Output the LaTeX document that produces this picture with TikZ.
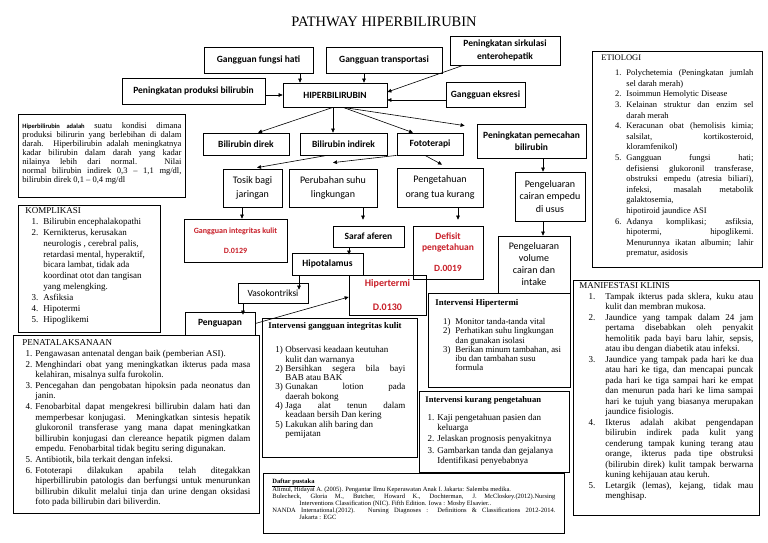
\documentclass[tikz,border=0pt]{standalone}
\usepackage{fontspec}
\setmainfont{Liberation Serif}
\newfontfamily\calibri{Carlito}
\usepackage{enumitem}
\usetikzlibrary{arrows.meta, positioning}
\definecolor{dxred}{RGB}{200,30,40}
\setlist{nosep}
\hyphenpenalty=10000
\exhyphenpenalty=10000
\tolerance=9000
\hbadness=10000

\begin{document}
\begin{tikzpicture}[x=1pt, y=-1pt,
        flowbox/.style={draw, line width=0.75pt, inner sep=1pt, align=center, font=\calibri\bfseries\fontsize{9.5}{12}\selectfont},
        flowlight/.style={flowbox, font=\calibri\fontsize{10}{13.5}\selectfont},
        diagbox/.style={flowbox, text=dxred},
        infobox/.style={draw, line width=0.9pt, anchor=north west, inner ysep=0pt},
        arrow/.style={-{Triangle[length=4pt, width=3.6pt]}, line width=0.6pt}
    ]
        \fill[white] (0,0) rectangle (768,543);
        \useasboundingbox (0,0) rectangle (768,543);

        \node[font=\fontsize{14.5}{16}\selectfont] (judul) at (384,22) {PATHWAY HIPERBILIRUBIN};

        % penyebab
        \node[flowbox, minimum width=109pt, minimum height=26pt] (fungsi) at (258.5,60) {Gangguan fungsi hati};
        \node[flowbox, minimum width=116pt, minimum height=26pt] (transp) at (384,60) {Gangguan transportasi};
        \node[flowbox, minimum width=110pt, minimum height=29pt, font=\calibri\bfseries\fontsize{9.5}{13}\selectfont] (sirk) at (505,50.5) {Peningkatan sirkulasi\\enterohepatik};
        \node[flowbox, minimum width=143pt, minimum height=26pt] (produksi) at (193.5,91) {Peningkatan produksi bilirubin};
        \node[flowbox, minimum width=104pt, minimum height=24pt] (hiper) at (335,95) {HIPERBILIRUBIN};
        \node[flowbox, minimum width=79pt, minimum height=25pt] (ekskresi) at (485.5,94.5) {Gangguan eksresi};

        % turunan
        \node[flowbox, minimum width=86pt, minimum height=22pt] (direk) at (246,144) {Bilirubin direk};
        \node[flowbox, minimum width=87pt, minimum height=22pt] (indirek) at (343.5,144) {Bilirubin indirek};
        \node[flowbox, minimum width=66pt, minimum height=22pt] (foto) at (430,144) {Fototerapi};
        \node[flowbox, minimum width=109pt, minimum height=34pt] (pecah) at (531.5,141) {Peningkatan pemecahan\\bilirubin};
        \node[flowlight, minimum width=59pt, minimum height=38pt, font=\calibri\fontsize{10}{14}\selectfont] (tosik) at (252.5,188) {Tosik bagi\\jaringan};
        \node[flowlight, minimum width=88pt, minimum height=38pt, font=\calibri\fontsize{10}{14}\selectfont] (suhu) at (333,188) {Perubahan suhu\\lingkungan};
        \node[flowlight, minimum width=86pt, minimum height=39pt, font=\calibri\fontsize{10}{15}\selectfont] (tahu) at (440,187.5) {Pengetahuan\\orang tua kurang};
        \node[flowlight, minimum width=70pt, minimum height=49pt, font=\calibri\fontsize{10}{12.5}\selectfont] (empedu) at (550,196.5) {Pengeluaran\\cairan empedu\\di usus};
        \node[flowlight, minimum width=72pt, minimum height=57pt, font=\calibri\fontsize{10}{12}\selectfont] (volume) at (534,264.5) {Pengeluaran\\volume\\cairan dan\\intake};
        \node[flowbox, minimum width=71pt, minimum height=21pt] (saraf) at (368.5,236.5) {Saraf aferen};
        \node[flowbox, minimum width=71pt, minimum height=22pt] (hipotal) at (327.5,264) {Hipotalamus};
        \node[flowlight, minimum width=70pt, minimum height=20pt, font=\calibri\fontsize{9.5}{12}\selectfont] (vaso) at (273,293) {Vasokontriksi};
        \node[flowbox, minimum width=70pt, minimum height=23pt] (uap) at (220,323.5) {Penguapan};

        % diagnosa
        \node[diagbox, minimum width=103pt, minimum height=43pt, font=\calibri\bfseries\fontsize{8}{10}\selectfont] (kulit) at (235.5,240.5) {Gangguan integritas kulit\\[10pt]D.0129};
        \node[diagbox, minimum width=77pt, minimum height=40pt, font=\calibri\bfseries\fontsize{10}{12}\selectfont] (hipert) at (387.5,295) {Hipertermi\\[12pt]D.0130};
        \node[diagbox, minimum width=70pt, minimum height=53pt, font=\calibri\bfseries\fontsize{9.5}{11}\selectfont] (defisit) at (448,252.5) {Defisit\\pengetahuan\\[10pt]D.0019};

        \draw[arrow] ([xshift=41.5pt]fungsi.south) -- ([xshift=-35pt]hiper.north);
        \draw[arrow] ([xshift=-20pt]transp.south) -- ([xshift=29pt]hiper.north);
        \draw[arrow] ([yshift=-4pt]produksi.east) -- (hiper.west);
        \draw[arrow] ([xshift=-42pt]sirk.south) -- ([yshift=3pt]hiper.east);
        \draw[arrow] ([yshift=-5.5pt]ekskresi.west) -- ([yshift=-5pt]hiper.east);
        \draw[arrow] ([xshift=-2pt]hiper.south) -- ([xshift=12pt]direk.north);
        \draw[arrow] ([xshift=-2pt]hiper.south) -- ([xshift=-10.5pt]indirek.north);
        \draw[arrow] ([xshift=8pt]hiper.south) -- ([xshift=-17pt]foto.north);
        \draw[arrow] ([xshift=8pt]hiper.south) -- ([xshift=-12pt, yshift=-2pt]pecah.north west);
        \draw[arrow] ([xshift=-16.5pt]indirek.south) -- ([xshift=4.5pt, yshift=1pt]tosik.north);
        \draw[arrow] (foto.south west) -- ([yshift=6pt]suhu.north);
        \draw[arrow] ([xshift=-5pt]foto.south) -- ([xshift=2pt, yshift=3pt]tahu.north);
        \draw[arrow] ([xshift=11.5pt]pecah.south) -- ([xshift=-7pt]empedu.north);
        \draw[arrow] ([xshift=-7pt]empedu.south) -- ([xshift=9pt]volume.north);
        \draw[arrow] ([xshift=-10.5pt]tosik.south) -- ([xshift=6.5pt]kulit.north);
        \draw[arrow] ([xshift=30pt]suhu.south) -- ([xshift=-5.5pt, yshift=6pt]saraf.north);
        \draw[arrow] ([xshift=-19.5pt]saraf.south) -- ([xshift=21.5pt, yshift=-2pt]hipotal.north);
        \draw[arrow] ([xshift=-28.5pt]hipotal.south) -- ([xshift=26pt, yshift=-7pt]vaso.north);
        \draw[arrow] ([xshift=-30pt]vaso.south) -- ([xshift=23pt, yshift=-3pt]uap.north);
        \draw[arrow] (uap.east) -- ([yshift=-2pt]hipert.west);
        \draw[arrow] ([xshift=18pt]tahu.south) -- ([xshift=10pt, yshift=6pt]defisit.north);

        % kotak keterangan
        \node[infobox, inner xsep=4pt] (defn) at (18,114) {\begin{minipage}[t][83pt][t]{159pt}
            \fontsize{8.5}{9}\selectfont
            \vspace*{8pt}{\calibri\bfseries\fontsize{6.5}{9}\selectfont Hiperbilirubin adalah} suatu kondisi dimana\linebreak
            produksi bilirurin yang berlebihan di dalam\linebreak
            darah. Hiperbilirubin adalah meningkatnya\linebreak
            kadar bilirubin dalam darah yang kadar\linebreak
            nilainya lebih dari normal. Nilai\linebreak
            normal bilirubin indirek 0,3 -- 1,1 mg/dl,\linebreak
            bilirubin direk 0,1 -- 0,4 mg/dl
        \end{minipage}};

        \node[infobox, inner xsep=7pt] (kompli) at (18,205) {\begin{minipage}[t][127pt][t]{128pt}
            \raggedright\fontsize{9}{10.9}\selectfont
            \vspace*{2pt}KOMPLIKASI
            \begin{enumerate}[leftmargin=18pt, labelsep=5pt]
                \item Bilirubin encephalakopathi
                \item Kernikterus, kerusakan\newline neurologis , cerebral palis,\newline retardasi mental, hyperaktif,\newline bicara lambat, tidak ada\newline koordinat otot dan tangisan\newline yang melengking.
                \item Asfiksia
                \item Hipotermi
                \item Hipoglikemi
            \end{enumerate}
        \end{minipage}};

        \node[infobox, inner xsep=9pt] (penata) at (13,335) {\begin{minipage}[t][178pt][t]{228pt}
            \fontsize{9}{10.6}\selectfont
            \vspace*{4.5pt}PENATALAKSANAAN
            \begin{enumerate}[leftmargin=13pt, labelsep=3pt]
                \item Pengawasan antenatal dengan baik (pemberian ASI).
                \item Menghindari obat yang meningkatkan ikterus pada masa\linebreak kelahiran, misalnya sulfa furokolin.
                \item Pencegahan dan pengobatan hipoksin pada neonatus dan\linebreak janin.
                \item Fenobarbital dapat mengekresi billirubin dalam hati dan\linebreak memperbesar konjugasi. Meningkatkan sintesis hepatik\linebreak glukoronil transferase yang mana dapat meningkatkan\linebreak billirubin konjugasi dan clereance hepatik pigmen dalam\linebreak empedu. Fenobarbital tidak begitu sering digunakan.
                \item Antibiotik, bila terkait dengan infeksi.
                \item Fototerapi dilakukan apabila telah ditegakkan\linebreak hiperbillirubin patologis dan berfungsi untuk menurunkan\linebreak billirubin dikulit melalui tinja dan urine dengan oksidasi\linebreak foto pada billirubin dari biliverdin.
            \end{enumerate}
        \end{minipage}};

        \node[infobox, inner xsep=6pt] (intkulit) at (262,318) {\begin{minipage}[t][139pt][t]{143pt}
            \fontsize{9}{9.3}\selectfont
            \vspace*{4pt}{\bfseries\fontsize{8.7}{9.3}\selectfont Intervensi gangguan integritas kulit}\par\vspace{15pt}
            \begin{enumerate}[label=\arabic*), leftmargin=17pt, labelsep=2.5pt, rightmargin=6pt]
                \item Observasi keadaan keutuhan\newline kulit dan warnanya
                \item Bersihkan segera bila bayi\linebreak BAB atau BAK
                \item Gunakan lotion pada\linebreak daerah bokong
                \item Jaga alat tenun dalam\linebreak keadaan bersih Dan kering
                \item Lakukan alih baring dan\newline pemijatan
            \end{enumerate}
        \end{minipage}};

        \node[infobox, inner xsep=7pt] (inthiper) at (428,293) {\begin{minipage}[t][94pt][t]{128pt}
            \raggedright\fontsize{8.8}{9.2}\selectfont
            \vspace*{6pt}{\bfseries Intervensi Hipertermi}\par\vspace{10pt}
            \begin{enumerate}[label=\arabic*), leftmargin=20pt, labelsep=5pt]
                \item Monitor tanda-tanda vital
                \item Perhatikan suhu lingkungan\newline dan gunakan isolasi
                \item Berikan minum tambahan, asi\newline ibu dan tambahan susu\newline formula
            \end{enumerate}
        \end{minipage}};

        \node[infobox, inner xsep=6pt] (inttahu) at (419,391) {\begin{minipage}[t][81pt][t]{138pt}
            \raggedright\fontsize{9}{10}\selectfont
            \vspace*{5pt}{\bfseries\fontsize{8.6}{10}\selectfont Intervensi kurang pengetahuan}\par\vspace{8pt}
            \begin{enumerate}[leftmargin=12pt, labelsep=3pt, itemsep=1.5pt]
                \item Kaji pengetahuan pasien dan\newline keluarga
                \item Jelaskan prognosis penyakitnya
                \item Gambarkan tanda dan gejalanya\newline Identifikasi penyebabnya
            \end{enumerate}
        \end{minipage}};

        \node[infobox, inner xsep=9pt] (pustaka) at (263,473) {\begin{minipage}[t][60pt][t]{283pt}
            \fontsize{6.5}{6.9}\selectfont
            \vspace*{5pt}{\bfseries\underline{Daftar pustaka}}\par
            \hangindent=27pt\hangafter=1 Alimul, Hidayat A. (2005). Pengantar Ilmu Keperawatan Anak I. Jakarta: Salemba medika.\par
            \hangindent=27pt\hangafter=1 Bulecheck, Gloria M., Butcher, Howard K., Dochterman, J. McCloskey.(2012).Nursing\linebreak Interventions Classification (NIC). Fifth Edition. Iowa : Mosby Elsavier..\par
            \hangindent=27pt\hangafter=1 NANDA International.(2012). Nursing Diagnoses : Definitions \& Classifications 2012-2014.\linebreak Jakarta : EGC\par
        \end{minipage}};

        \node[infobox, inner xsep=9pt] (etiologi) at (592,51) {\begin{minipage}[t][216pt][t]{152pt}
            \fontsize{8.5}{10.6}\selectfont
            \vspace*{3pt}ETIOLOGI\par\vspace{5pt}
            \begin{enumerate}[leftmargin=25pt, labelsep=5pt]
                \item Polychetemia (Peningkatan jumlah\linebreak sel darah merah)
                \item Isoimmun Hemolytic Disease
                \item Kelainan struktur dan enzim sel\linebreak darah merah
                \item Keracunan obat (hemolisis kimia;\linebreak salsilat, kortikosteroid,\linebreak kloramfenikol)
                \item Gangguan fungsi hati;\linebreak defisiensi glukoronil transferase,\linebreak obstruksi empedu (atresia biliari),\linebreak infeksi, masalah metabolik\linebreak galaktosemia,\newline hipotiroid jaundice ASI
                \item Adanya komplikasi; asfiksia,\linebreak hipotermi, hipoglikemi.\linebreak Menurunnya ikatan albumin; lahir\linebreak prematur, asidosis
            \end{enumerate}
        \end{minipage}};

        \node[infobox, inner xsep=6pt] (klinis) at (573,280) {\begin{minipage}[t][235pt][t]{174pt}
            \fontsize{9}{10.5}\selectfont
            \vspace*{2.5pt}MANIFESTASI KLINIS
            \begin{enumerate}[leftmargin=26pt, labelsep=10pt]
                \item Tampak ikterus pada sklera, kuku atau\linebreak kulit dan membran mukosa.
                \item Jaundice yang tampak dalam 24 jam\linebreak pertama disebabkan oleh penyakit\linebreak hemolitik pada bayi baru lahir, sepsis,\linebreak atau ibu dengan diabetik atau infeksi.
                \item Jaundice yang tampak pada hari ke dua\linebreak atau hari ke tiga, dan mencapai puncak\linebreak pada hari ke tiga sampai hari ke empat\linebreak dan menurun pada hari ke lima sampai\linebreak hari ke tujuh yang biasanya merupakan\linebreak jaundice fisiologis.
                \item Ikterus adalah akibat pengendapan\linebreak bilirubin indirek pada kulit yang\linebreak cenderung tampak kuning terang atau\linebreak orange, ikterus pada tipe obstruksi\linebreak (bilirubin direk) kulit tampak berwarna\linebreak kuning kehijauan atau keruh.
                \item Letargik (lemas), kejang, tidak mau\linebreak menghisap.
            \end{enumerate}
        \end{minipage}};
    \end{tikzpicture}
\end{document}
